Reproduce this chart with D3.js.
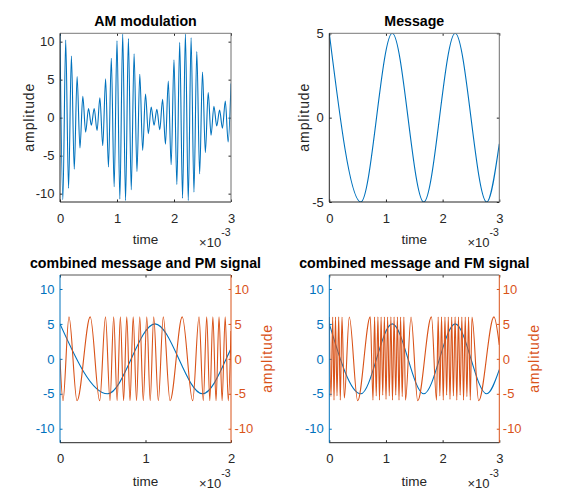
<!DOCTYPE html>
<html>
<head>
<meta charset="utf-8">
<script src="https://d3js.org/d3.v7.min.js"></script>
<style>
  body { margin: 0; background: #ffffff; }
  svg text { font-family: "Liberation Sans", Arial, Helvetica, sans-serif; }
</style>
</head>
<body>
<div id="chart"></div>
<script>
// ---- data (time in ms) ----

// AM modulation: carrier peaks / troughs
const amTime = [0, 0.05, 0.10, 0.15, 0.20, 0.25, 0.30, 0.35, 0.40, 0.45,
  0.50, 0.55, 0.60, 0.65, 0.70, 0.75, 0.80, 0.85, 0.90, 0.95,
  1.00, 1.05, 1.10, 1.15, 1.20, 1.25, 1.30, 1.35, 1.40, 1.45,
  1.50, 1.55, 1.60, 1.65, 1.70, 1.75, 1.80, 1.85, 1.90, 1.95,
  2.00, 2.05, 2.10, 2.15, 2.20, 2.25, 2.30, 2.35, 2.40, 2.45,
  2.50, 2.55, 2.60, 2.65, 2.70, 2.75, 2.80, 2.85, 2.90, 2.95, 3.00];
const amValue = [11, -10.8, 10.2, -9.3, 8.1, -6.8, 5.4, -4.0, 2.8, -1.9,
  1.2, -1.0, 1.2, -1.7, 2.6, -3.7, 5.1, -6.5, 7.8, -9.1,
  10.1, -10.7, 11.0, -10.9, 10.4, -9.5, 8.4, -7.1, 5.7, -4.3,
  3.1, -2.1, 1.4, -1.0, 1.1, -1.6, 2.4, -3.5, 4.8, -6.2,
  7.6, -8.8, 9.9, -10.6, 11.0, -10.9, 10.5, -9.8, 8.7, -7.4,
  6.0, -4.6, 3.3, -2.3, 1.5, -1.1, 1.0, -1.4, 2.2, -3.2, 4.5];

// message: extrema and end point
const msgTime = [0, 0.556, 1.111, 1.667, 2.222, 2.778, 3.0];
const msgValue = [5, -5, 5, -5, 5, -5, -1.55];

// PM signal (0..2 ms)
const pmTime = [0, 0.035, 0.105, 0.199, 0.354, 0.464, 0.532, 0.585, 0.628, 0.668,
  0.706, 0.744, 0.781, 0.819, 0.856, 0.895, 0.933, 0.974, 1.015, 1.055,
  1.096, 1.150, 1.208, 1.287, 1.430, 1.552, 1.626, 1.676, 1.716, 1.752,
  1.788, 1.825, 1.860, 1.896, 1.932, 1.968, 2.0];
const pmValue = [0, -6, 6, -6, 6, -6, 6, -6, 6, -6,
  6, -6, 6, -6, 6, -6, 6, -6, 6, -6,
  6, -6, 6, -6, 6, -6, 6, -6, 6, -6,
  6, -6, 6, -6, 6, -6, 4];

// FM signal (0..3 ms)
const fmTime = [0, 0.030, 0.060, 0.083, 0.109, 0.136, 0.166, 0.194, 0.224, 0.265,
  0.353, 0.501, 0.723, 0.771, 0.799, 0.828, 0.858, 0.886, 0.914, 0.943,
  0.972, 1.001, 1.029, 1.058, 1.087, 1.115, 1.143, 1.173, 1.202, 1.230,
  1.258, 1.287, 1.316, 1.345, 1.442, 1.560, 1.803, 1.892, 1.921, 1.951,
  1.981, 2.011, 2.041, 2.071, 2.100, 2.130, 2.160, 2.190, 2.220, 2.250,
  2.279, 2.309, 2.339, 2.369, 2.399, 2.428, 2.458, 2.488, 2.518, 2.636,
  2.906, 3.0];
const fmValue = [6, -5.4, 6, -5.9, 6, -5.3, 6, -5.9, 6, -5.6,
  6, -6, 6, -5.9, 6, -5.3, 6, -5.9, 6, -5.2,
  6, -5.8, 6, -5.3, 6, -5.9, 6, -5.2, 6, -5.9,
  6, -5.4, 6, -5.9, 6, -6, 6, -5.9, 6, -5.3,
  6, -5.9, 6, -5.2, 6, -5.8, 6, -5.3, 6, -5.9,
  6, -5.2, 6, -5.9, 6, -5.4, 6, -5.9, 6, -6,
  6, 2];

// ticks
const xTicks3 = [0, 1, 2, 3];
const xTicks2 = [0, 1, 2];
const amTicks = [-10, -5, 0, 5, 10];
const msgTicks = [-5, 0, 5];
const dualTicks = [-10, -5, 0, 5, 10];

// ---- drawing ----
const width = 562, height = 499;
const blue = "#0072BD", orange = "#D95319", ink = "#262626";
const tick = 2.5;

const svg = d3.select("#chart")
  .append("svg")
  .attr("width", width)
  .attr("height", height);

let clipId = 0;

function panel(box, xMax, xTicks, yDomain) {
  const x = d3.scaleLinear().domain([0, xMax]).range([box.left, box.right]);
  const y = d3.scaleLinear().domain(yDomain).range([box.bottom, box.top]);
  const id = "clip" + (clipId++);
  svg.append("clipPath").attr("id", id)
    .append("rect")
    .attr("x", box.left).attr("y", box.top)
    .attr("width", box.right - box.left).attr("height", box.bottom - box.top);

  const g = svg.append("g");

  // bottom + top x axis
  const gx = g.append("g")
    .attr("transform", `translate(0,${box.bottom})`)
    .call(d3.axisBottom(x).tickValues(xTicks).tickFormat(d => String(d))
      .tickSizeInner(-tick).tickSizeOuter(0).tickPadding(11.5));
  gx.select(".domain").remove();
  gx.selectAll("line").attr("stroke", ink);
  gx.selectAll("text").attr("fill", ink).attr("font-size", 13);

  const gt = g.append("g")
    .attr("transform", `translate(0,${box.top})`)
    .call(d3.axisTop(x).tickValues(xTicks).tickFormat(() => "")
      .tickSizeInner(-tick).tickSizeOuter(0));
  gt.select(".domain").remove();
  gt.selectAll("line").attr("stroke", ink);

  return { x, y, g, box, clip: id };
}

function yAxis(p, ticks, side, color, withLabels) {
  const gen = side === "left" ? d3.axisLeft(p.y) : d3.axisRight(p.y);
  gen.tickValues(ticks).tickSizeInner(-tick).tickSizeOuter(0)
    .tickPadding(side === "left" ? 5.5 : 3.5)
    .tickFormat(withLabels ? (d => String(d)) : () => "");
  const pos = side === "left" ? p.box.left : p.box.right;
  const ga = p.g.append("g")
    .attr("transform", `translate(${pos},0)`)
    .call(gen);
  ga.select(".domain").remove();
  ga.selectAll("line").attr("stroke", color);
  ga.selectAll("text").attr("fill", color).attr("font-size", 13);
}

function frame(p, leftColor, rightColor, topColor) {
  const b = p.box;
  p.g.append("line").attr("x1", b.left).attr("x2", b.right)
    .attr("y1", b.bottom).attr("y2", b.bottom).attr("stroke", ink);
  p.g.append("line").attr("x1", b.left).attr("x2", b.right)
    .attr("y1", b.top).attr("y2", b.top).attr("stroke", topColor);
  p.g.append("line").attr("x1", b.left).attr("x2", b.left)
    .attr("y1", b.top).attr("y2", b.bottom).attr("stroke", leftColor);
  p.g.append("line").attr("x1", b.right).attr("x2", b.right)
    .attr("y1", b.top).attr("y2", b.bottom).attr("stroke", rightColor);
}

function series(p, t, v, color, w) {
  const line = d3.line()
    .x(d => p.x(d[0]))
    .y(d => p.y(d[1]))
    .curve(d3.curveMonotoneX);
  p.g.append("path")
    .datum(d3.zip(t, v))
    .attr("clip-path", `url(#${p.clip})`)
    .attr("fill", "none")
    .attr("stroke", color)
    .attr("stroke-width", w)
    .attr("stroke-linejoin", "round")
    .attr("d", line);
}

function labels(p, title, titleY, timeY, ylab) {
  const b = p.box, cx = (b.left + b.right) / 2;
  p.g.append("text").attr("x", cx).attr("y", titleY)
    .attr("text-anchor", "middle").attr("font-weight", "bold")
    .attr("font-size", 14.2).attr("fill", "#000").text(title);
  p.g.append("text").attr("x", cx).attr("y", timeY)
    .attr("text-anchor", "middle").attr("font-size", 13.5)
    .attr("fill", ink).text("time");
  const ex = p.g.append("text").attr("x", b.right - 0.5).attr("y", timeY + 2.5)
    .attr("text-anchor", "end").attr("font-size", 13).attr("fill", ink);
  ex.append("tspan").text("\u00d710");
  ex.append("tspan").attr("dy", -11).attr("font-size", 10.5).text("-3");
  p.g.append("text")
    .attr("transform", `translate(${ylab.x},${(b.top + b.bottom) / 2}) rotate(-90)`)
    .attr("text-anchor", "middle").attr("font-size", 14)
    .attr("textLength", 68).attr("lengthAdjust", "spacing")
    .attr("fill", ylab.color).text("amplitude");
}

// top-left: AM modulation
const p1 = panel({ left: 60, right: 231, top: 33.3, bottom: 202 }, 3, xTicks3, [-11.1, 11.1]);
yAxis(p1, amTicks, "left", ink, true);
yAxis(p1, amTicks, "right", ink, false);
series(p1, amTime, amValue, blue, 1.1);
frame(p1, ink, "#6e6e6e", "#7a7a7a");
labels(p1, "AM modulation", 26, 244, { x: 34, color: ink });

// top-right: Message
const p2 = panel({ left: 329.3, right: 499.3, top: 33.3, bottom: 202 }, 3, xTicks3, [-5, 5]);
yAxis(p2, msgTicks, "left", ink, true);
yAxis(p2, msgTicks, "right", ink, false);
series(p2, msgTime, msgValue, blue, 1.1);
frame(p2, ink, "#6e6e6e", "#7a7a7a");
labels(p2, "Message", 26, 244, { x: 309, color: ink });

// bottom-left: message + PM
const p3 = panel({ left: 60, right: 231, top: 275, bottom: 442.7 }, 2, xTicks2, [-12, 12]);
yAxis(p3, dualTicks, "left", blue, true);
yAxis(p3, dualTicks, "right", orange, true);
series(p3, msgTime, msgValue, blue, 1.1);
series(p3, pmTime, pmValue, orange, 1.1);
frame(p3, blue, orange, "#555555");
labels(p3, "combined message and PM signal", 267.5, 485.5, { x: 271.5, color: orange });

// bottom-right: message + FM
const p4 = panel({ left: 329.3, right: 499.3, top: 275, bottom: 442.7 }, 3, xTicks3, [-12, 12]);
yAxis(p4, dualTicks, "left", blue, true);
yAxis(p4, dualTicks, "right", orange, true);
series(p4, msgTime, msgValue, blue, 1.1);
series(p4, fmTime, fmValue, orange, 1.1);
frame(p4, blue, orange, "#555555");
labels(p4, "combined message and FM signal", 267.5, 485.5, { x: 539, color: orange });
</script>
</body>
</html>
